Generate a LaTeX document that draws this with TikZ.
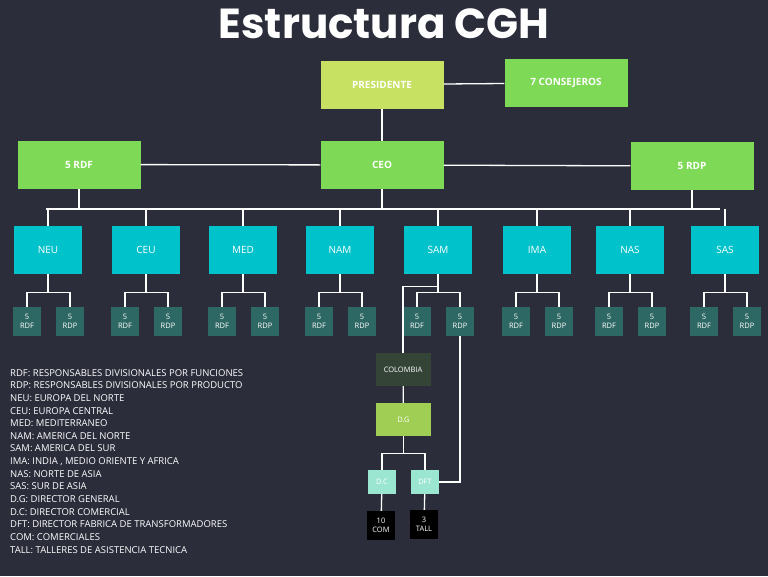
\documentclass[tikz,border=0pt]{standalone}
\usepackage{fontspec}
\setmainfont{Open Sans}
\newfontfamily\titlefont{Poppins}
\usetikzlibrary{positioning}
\definecolor{my_bg}{RGB}{43, 45, 59}
\definecolor{my_yellow}{RGB}{199, 225, 99}
\definecolor{my_green}{RGB}{126, 217, 87}
\definecolor{my_cyan}{RGB}{0, 194, 203}
\definecolor{my_teal}{RGB}{46, 104, 100}
\definecolor{my_dark}{RGB}{52, 69, 56}
\definecolor{my_olive}{RGB}{160, 206, 85}
\definecolor{my_aqua}{RGB}{154, 230, 208}
\tikzset {
  bigbox/.style = {rectangle, inner sep=0, text=white, font=\bfseries\fontsize{10}{12}\selectfont, minimum width=123pt, minimum height=48pt},
  region/.style = {rectangle, inner sep=0, fill=my_cyan, text=white, font=\fontsize{10}{12}\selectfont, minimum width=68pt, minimum height=48pt},
  small/.style = {rectangle, inner sep=0, fill=my_teal, text=white, align=center, font=\fontsize{7.5}{9}\selectfont, minimum width=28pt, minimum height=29pt},
  mid/.style = {rectangle, inner sep=0, text=white, font=\fontsize{7.5}{9}\selectfont, minimum width=55pt, minimum height=33pt},
  line/.style = {thick, color=white, line width=1.3pt},
  legend/.style = {anchor=north west, inner sep=0, text=white, align=left, font=\fontsize{9.5}{12.65}\selectfont}
}
\begin{document}
\begin{tikzpicture}[x=1pt, y=-1pt]
    \fill[my_bg] (0,0) rectangle (768,576);
    \useasboundingbox (0,0) rectangle (768,576);

    \node[text=white, font=\titlefont\bfseries\fontsize{42}{44}\selectfont, name=title] (title) at (384,24) {Estructura CGH};

    \node[bigbox, fill=my_yellow, name=pres] (pres) at (382,84.5) {PRESIDENTE};
    \node[bigbox, fill=my_green, name=cons] (cons) at (566,83) {7 CONSEJEROS};
    \node[bigbox, fill=my_green, name=ceo] (ceo) at (382,165) {CEO};
    \node[bigbox, fill=my_green, name=rdf] (rdf) at (79,164.5) {5 RDF};
    \node[bigbox, fill=my_green, name=rdp] (rdp) at (692,166) {5 RDP};

    \draw[line] (pres) -- (cons);
    \draw[line] (pres) -- (ceo);
    \draw[line] (rdf) -- (ceo);
    \draw[line] (ceo) -- (rdp);

    \coordinate (busl) at (46,209);
    \coordinate (busr) at (720,209);
    \draw[line] (busl) -- (busr);
    \draw[line] (rdf.south) -- (rdf.south |- busl);
    \draw[line] (ceo.south) -- (ceo.south |- busl);
    \draw[line] (rdp.south) -- (rdp.south |- busl);

    % regions with their two small boxes
    \foreach \name/\x in {NEU/48, CEU/146, MED/243, NAM/340, SAM/438, IMA/537, NAS/630, SAS/725} {
      \node[region, name=\name] (\name) at (\x,250) {\name};
      \node[small, name=\name f] (\name f) at (\x-21,321.5) {5\\RDF};
      \node[small, name=\name p] (\name p) at (\x+22,321.5) {5\\RDP};
      \draw[line] (\name.north) -- (\name.north |- busl);
      \draw[line] (\name.south) -- ++(0,18) -| (\name f.north);
      \draw[line] (\name.south) ++(0,18) -| (\name p.north);
    }

    \node[mid, fill=my_dark, name=col] (col) at (403,369.5) {COLOMBIA};
    \node[mid, fill=my_olive, name=dg] (dg) at (403.5,419.5) {D.G};
    \node[small, fill=my_aqua, minimum height=24pt, name=dc] (dc) at (382,482) {D.C};
    \node[small, fill=my_aqua, minimum height=24pt, name=dft] (dft) at (425,482) {DFT};
    \node[small, fill=black, name=com] (com) at (381,525.5) {10\\COM};
    \node[small, fill=black, name=tall] (tall) at (424,524.5) {3\\TALL};

    \draw[line] (SAM.south) ++(0,12) -| (col.north);
    \draw[line] (col) -- (dg);
    \draw[line] (dg.south) -- ++(0,17) -| (dc.north);
    \draw[line] (dg.south) ++(0,17) -| (dft.north);
    \draw[line] (SAMp.south) |- (dft.east);
    \draw[line] (dc) -- (com);
    \draw[line] (dft) -- (tall);

    \node[legend, name=leg] (leg) at (10,369) {RDF: RESPONSABLES DIVISIONALES POR FUNCIONES\\
      RDP: RESPONSABLES DIVISIONALES POR PRODUCTO\\
      NEU: EUROPA DEL NORTE\\
      CEU: EUROPA CENTRAL\\
      MED: MEDITERRANEO\\
      NAM: AMERICA DEL NORTE\\
      SAM: AMERICA DEL SUR\\
      IMA: INDIA , MEDIO ORIENTE Y AFRICA\\
      NAS: NORTE DE ASIA\\
      SAS: SUR DE ASIA\\
      D.G: DIRECTOR GENERAL\\
      D.C: DIRECTOR COMERCIAL\\
      DFT: DIRECTOR FABRICA DE TRANSFORMADORES\\
      COM: COMERCIALES\\
      TALL: TALLERES DE ASISTENCIA TECNICA};
\end{tikzpicture}
\end{document}
